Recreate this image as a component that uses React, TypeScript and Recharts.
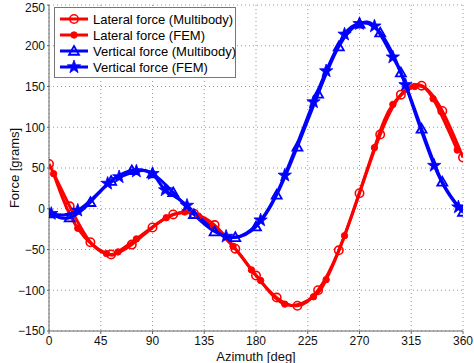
import React from 'react';
import { LineChart, Line, XAxis, YAxis, CartesianGrid, Legend } from 'recharts';

// azimuth positions (deg) and force values (grams)
const mbAzimuth = [0, 18, 36, 54, 72, 90, 108, 126, 144, 162, 180, 198, 216, 234, 252, 270, 288, 306, 324, 342, 360];
const lateralMb = [55, 3, -41, -56, -44, -23, -7, -6, -20, -49, -82, -109, -119, -100, -51, 19, 91, 140, 151, 120, 63];
const verticalMb = [-6, -11, 8, 34, 47, 43, 20, -7, -28, -35, -22, 17, 76, 141, 199, 227, 216, 167, 98, 33, -4];

const lateralFemAzimuth = [4, 25, 50, 60, 76, 102, 118, 130, 160, 176, 184, 205, 230, 241, 257, 283, 299, 318, 334, 355];
const lateralFem = [43, -24, -55, -53, -37, -11, -4, -9, -46, -75, -88, -117, -108, -87, -33, 75, 128, 150, 135, 72];

const verticalFemAzimuth = [2, 25, 51, 61, 76, 90, 101, 120, 154, 184, 205, 230, 241, 257, 270, 283, 299, 310, 335, 356];
const verticalFem = [-6, -2, 31, 39, 46, 43, 23, 4, -34, -14, 41, 131, 169, 214, 227, 224, 186, 152, 53, 2];

const xTicks = [0, 45, 90, 135, 180, 225, 270, 315, 360];
const yTicks = [-150, -100, -50, 0, 50, 100, 150, 200, 250];

const toPoints = (az: number[], vals: number[]) => az.map((a, i) => ({ az: a, value: vals[i] }));

const RED = '#ff0000';
const BLUE = '#0000ff';
const FONT = '"Liberation Sans", Arial, Helvetica, sans-serif';

type Shape = 'openCircle' | 'dot' | 'triangle' | 'star';

function starPoints(cx: number, cy: number, ro: number, ri: number) {
  const pts: string[] = [];
  for (let i = 0; i < 10; i++) {
    const r = i % 2 === 0 ? ro : ri;
    const a = -Math.PI / 2 + (i * Math.PI) / 5;
    pts.push(`${cx + r * Math.cos(a)},${cy + r * Math.sin(a)}`);
  }
  return pts.join(' ');
}

function Marker({ shape, cx, cy, color }: { shape: Shape; cx: number; cy: number; color: string }) {
  if (shape === 'openCircle') return <circle cx={cx} cy={cy} r={4.2} fill="none" stroke={color} strokeWidth={1.6} />;
  if (shape === 'dot') return <circle cx={cx} cy={cy} r={3.2} fill={color} stroke={color} />;
  if (shape === 'triangle') {
    const s = 5;
    return (
      <polygon
        points={`${cx},${cy - s} ${cx + s},${cy + s * 0.75} ${cx - s},${cy + s * 0.75}`}
        fill="none"
        stroke={color}
        strokeWidth={1.8}
      />
    );
  }
  return <polygon points={starPoints(cx, cy, 7, 2.8)} fill={color} stroke={color} strokeWidth={0.8} />;
}

const series = [
  { name: 'Lateral force (Multibody)', color: RED, shape: 'openCircle' as Shape, data: toPoints(mbAzimuth, lateralMb) },
  { name: 'Lateral force (FEM)', color: RED, shape: 'dot' as Shape, data: toPoints(lateralFemAzimuth, lateralFem) },
  { name: 'Vertical force (Multibody)', color: BLUE, shape: 'triangle' as Shape, data: toPoints(mbAzimuth, verticalMb) },
  { name: 'Vertical force (FEM)', color: BLUE, shape: 'star' as Shape, data: toPoints(verticalFemAzimuth, verticalFem) },
];

const renderLegend = () => (
  <div
    style={{
      background: '#fff',
      border: '1px solid #777',
      width: 180,
      padding: '3px 0 2px 0',
      fontFamily: FONT,
      fontSize: 13,
      color: '#000',
    }}
  >
    {series.map((s) => (
      <div key={s.name} style={{ display: 'flex', alignItems: 'center', height: 16 }}>
        <svg width={38} height={16} style={{ flex: 'none' }}>
          <line x1={5} y1={8} x2={33} y2={8} stroke={s.color} strokeWidth={3} />
          <Marker shape={s.shape} cx={19} cy={8} color={s.color} />
        </svg>
        <span style={{ whiteSpace: 'nowrap' }}>{s.name}</span>
      </div>
    ))}
  </div>
);

const fmt = (v: number) => (v < 0 ? `\u2212${Math.abs(v)}` : `${v}`);

export default function App() {
  return (
    <div style={{ position: 'absolute', left: 0, top: 0, width: 474, height: 363, background: '#fff' }}>
      <LineChart width={474} height={363} margin={{ top: 5, right: 11, bottom: 0, left: 0 }}>
        <CartesianGrid stroke="#999" strokeDasharray="1 3" />
        <XAxis
          dataKey="az"
          type="number"
          domain={[0, 360]}
          ticks={xTicks}
          allowDataOverflow
          height={32}
          stroke="#666"
          tickSize={3}
          tickMargin={2}
          tick={{ fill: '#111', fontSize: 12, fontFamily: FONT }}
          label={{ value: 'Azimuth [deg]', position: 'insideBottom', offset: 2, fill: '#111', fontSize: 13, fontFamily: FONT }}
        />
        <YAxis
          type="number"
          domain={[-150, 250]}
          ticks={yTicks}
          allowDataOverflow
          width={49}
          stroke="#666"
          tickSize={2}
          tickMargin={2}
          tickFormatter={fmt}
          tick={{ fill: '#111', fontSize: 12, fontFamily: FONT }}
          label={{
            value: 'Force [grams]',
            angle: -90,
            position: 'insideLeft',
            offset: 14,
            fill: '#111',
            fontSize: 13,
            fontFamily: FONT,
            style: { textAnchor: 'middle' },
          }}
        />
        <Legend
          layout="vertical"
          align="center"
          verticalAlign="middle"
          content={renderLegend}
          wrapperStyle={{ left: 54, top: 7, width: 182 }}
        />
        {series.map((s) => (
          <Line
            key={s.name}
            name={s.name}
            data={s.data}
            dataKey="value"
            type="natural"
            stroke={s.color}
            strokeWidth={3}
            isAnimationActive={false}
            dot={(p: any) => <Marker key={`${s.name}-${p.index}`} shape={s.shape} cx={p.cx} cy={p.cy} color={s.color} />}
            activeDot={false}
          />
        ))}
      </LineChart>
    </div>
  );
}
